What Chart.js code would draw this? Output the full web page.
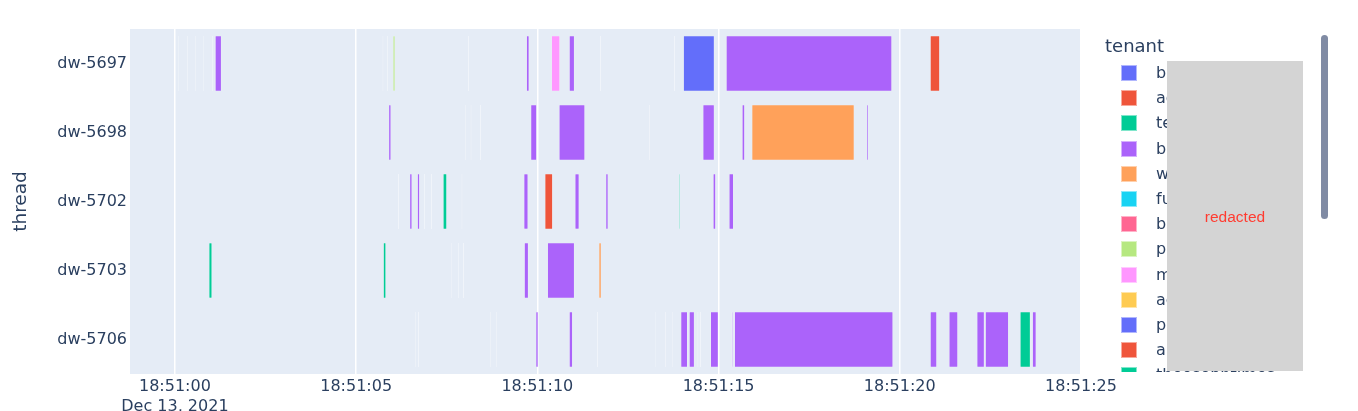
<!DOCTYPE html>
<html>
<head>
<meta charset="utf-8">
<script src="https://cdn.jsdelivr.net/npm/chart.js@4.4.1/dist/chart.umd.min.js"></script>
<style>
body{margin:0;background:#fff;width:1358px;height:411px;overflow:hidden;position:relative;font-family:"DejaVu Sans",Verdana,sans-serif}
#chart{position:absolute;left:0;top:0}
#legend{position:absolute;left:1100px;top:28px;width:220px;height:344px;overflow:hidden;color:#2a3f5f}
#legend .title{position:absolute;left:5px;top:7px;font-size:18px;line-height:22px}
#legend .item{position:absolute;left:21px;height:16px;font-size:16px;line-height:16px;white-space:nowrap}
#legend .sw{position:absolute;left:0;top:0;width:16px;height:16px;box-sizing:border-box;border:1px solid rgba(255,255,255,0.5)}
#legend .lb{position:absolute;left:35px;top:0}
#redact{position:absolute;left:1167px;top:61px;width:136px;height:310px;background:#d4d4d4}
#redact span{position:absolute;left:0;width:136px;top:147px;text-align:center;color:#ff3b30;font:15.5px "Liberation Sans",Arial,sans-serif}
#scroll{position:absolute;left:1321px;top:35px;width:7px;height:184px;border-radius:4px;background:#808ba4}
</style>
</head>
<body>
<canvas id="chart" width="1358" height="411"></canvas>
<div id="legend"><div class="title">tenant</div></div>
<div id="redact"><span>redacted</span></div>
<div id="scroll"></div>
<script>
// threads on the y axis, top to bottom
const threads = ['dw-5697', 'dw-5698', 'dw-5702', 'dw-5703', 'dw-5706']

// legend entries (names mostly hidden under the redaction box)
const tenants = ['bo', 'ad', 'te', 'bl', 'wa', 'fu', 'bu', 'po', 'ma', 'ac', 'pa', 'ar', 'theosophtimes']
const tenantColors = ['#636efa', '#EF553B', '#00cc96', '#ab63fa', '#FFA15A', '#19d3f3', '#FF6692',
  '#B6E880', '#FF97FF', '#FECB52', '#636efa', '#EF553B', '#00cc96']

// x ticks, seconds after 18:51:00
const xTicks = [0, 5, 10, 15, 20, 25]
const tickDate = 'Dec 13, 2021'

// tasks per thread: [tenant index, start s, end s]  (s after 18:51:00)
const dw5697 = [
  [3, 0.08, 0.10], [3, 0.33, 0.35], [3, 0.55, 0.57], [3, 0.77, 0.79], [3, 1.02, 1.04],
  [3, 1.11, 1.28], [3, 5.73, 5.75], [3, 5.85, 5.87], [7, 6.02, 6.07], [3, 8.09, 8.11],
  [3, 9.70, 9.77], [8, 10.39, 10.62], [3, 10.88, 11.02], [3, 11.73, 11.75], [3, 13.77, 13.79],
  [0, 14.03, 14.88], [3, 15.21, 19.78], [1, 20.84, 21.10]
]
const dw5698 = [
  [3, 5.90, 5.96], [3, 8.00, 8.02], [3, 8.16, 8.18], [3, 8.42, 8.44], [3, 9.82, 9.98],
  [3, 10.60, 11.31], [3, 13.09, 13.11], [3, 14.57, 14.88], [3, 15.65, 15.72],
  [4, 15.92, 18.74], [3, 19.09, 19.13]
]
const dw5702 = [
  [3, 6.16, 6.18], [3, 6.48, 6.54], [3, 6.69, 6.75], [3, 6.88, 6.90], [3, 7.07, 7.09],
  [2, 7.40, 7.50], [3, 7.91, 7.93], [3, 9.63, 9.74], [1, 10.21, 10.42], [3, 11.04, 11.15],
  [3, 11.89, 11.95], [2, 13.90, 13.93], [3, 14.85, 14.92], [3, 15.29, 15.41]
]
const dw5703 = [
  [2, 0.94, 1.02], [2, 5.75, 5.82], [3, 7.63, 7.65], [3, 7.82, 7.84], [3, 7.95, 7.97],
  [3, 9.64, 9.75], [3, 10.28, 11.02], [4, 11.70, 11.76]
]
const dw5706 = [
  [3, 6.62, 6.64], [3, 6.71, 6.73], [3, 8.69, 8.71], [3, 8.87, 8.89], [3, 9.96, 10.02],
  [3, 10.88, 10.97], [3, 11.65, 11.67], [3, 13.24, 13.26], [3, 13.52, 13.54], [3, 13.71, 13.73],
  [3, 13.96, 14.14], [3, 14.19, 14.33], [3, 14.42, 14.44], [3, 14.49, 14.51], [3, 14.78, 14.99],
  [3, 15.36, 15.39], [3, 15.44, 19.81], [3, 20.84, 21.02], [3, 21.36, 21.60], [3, 22.13, 22.33],
  [3, 22.36, 23.00], [2, 23.32, 23.60], [3, 23.66, 23.76]
]
const tasksByThread = [dw5697, dw5698, dw5702, dw5703, dw5706]

// one dataset per tenant
let datasets = tenants.map((name, i) => ({
  label: name,
  data: [],
  backgroundColor: tenantColors[i]
}))
tasksByThread.forEach((tasks, t) => {
  tasks.forEach(task => {
    datasets[task[0]].data.push({ x: [task[1], task[2]], y: threads[t] })
  })
})

// html legend
let legend = document.getElementById('legend')
tenants.forEach((name, i) => {
  let item = document.createElement('div')
  item.className = 'item'
  item.style.top = (37 + i * 25.2) + 'px'
  item.innerHTML = '<div class="sw" style="background:' + tenantColors[i] + '"></div><div class="lb"></div>'
  item.querySelector('.lb').innerText = name
  legend.appendChild(item)
})

const plotBg = {
  id: 'plotBg',
  beforeDraw(chart) {
    const { ctx, chartArea: a } = chart
    ctx.save()
    ctx.fillStyle = '#e5ecf6'
    ctx.fillRect(a.left, a.top, a.right - a.left, a.bottom - a.top)
    ctx.restore()
  }
}

function pad(n) { return (n < 10 ? '0' : '') + n }

new Chart(document.getElementById('chart'), {
  type: 'bar',
  data: { labels: threads, datasets: datasets },
  plugins: [plotBg],
  options: {
    indexAxis: 'y',
    responsive: false,
    animation: false,
    layout: { padding: { top: 29, right: 277, left: 0, bottom: 0 } },
    plugins: { legend: { display: false }, tooltip: { enabled: false } },
    datasets: {
      bar: {
        grouped: false,
        barPercentage: 0.8,
        categoryPercentage: 1,
        borderColor: 'rgba(255,255,255,0.8)',
        borderWidth: 0.4,
        borderSkipped: false
      }
    },
    scales: {
      x: {
        type: 'linear',
        min: -1.24,
        max: 25,
        afterBuildTicks: s => { s.ticks = xTicks.map(v => ({ value: v })) },
        afterFit: s => { s.height = 37 },
        grid: { color: '#ffffff', lineWidth: 1.5, drawTicks: false },
        border: { display: false },
        ticks: {
          autoSkip: false,
          maxRotation: 0,
          padding: 3,
          color: '#2a3f5f',
          font: { family: '"DejaVu Sans", Verdana, sans-serif', size: 16, lineHeight: 1.25 },
          callback: v => {
            let lbl = '18:51:' + pad(v)
            return v === 0 ? [lbl, tickDate] : lbl
          }
        }
      },
      y: {
        type: 'category',
        offset: true,
        afterFit: s => { s.width = 130 },
        grid: { display: false, drawTicks: false },
        border: { display: false },
        ticks: {
          padding: 3,
          color: '#2a3f5f',
          font: { family: '"DejaVu Sans", Verdana, sans-serif', size: 16 }
        },
        title: {
          display: true,
          text: 'thread',
          color: '#2a3f5f',
          padding: { top: 10 },
          font: { family: '"DejaVu Sans", Verdana, sans-serif', size: 18.5 }
        }
      }
    }
  }
})
</script>
</body>
</html>
